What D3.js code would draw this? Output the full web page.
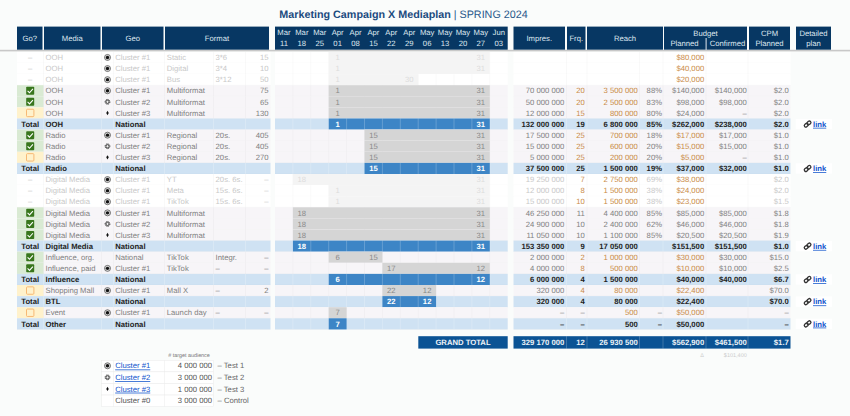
<!DOCTYPE html>
<html><head><meta charset="utf-8">
<script src="https://cdn.jsdelivr.net/npm/d3@7"></script>
<style>html,body{margin:0;padding:0;background:#fafcfb}svg{display:block}text{font-family:"Liberation Sans",Arial,sans-serif;text-rendering:geometricPrecision}</style>
</head><body><svg id="c" width="850" height="416"></svg>
<script>
// ---------- data ----------
const weekMonths=["Mar","Mar","Mar","Apr","Apr","Apr","Apr","Apr","May","May","May","May","Jun"];
const weekDays=["11","18","25","01","08","15","22","29","06","13","20","27","03"];
const rowKinds=["faded","faded","faded","row","row","row","total","row","row","row","total","faded","faded","faded","row","row","row","total","row","row","total","row","total","row","total"];
const go=["–","–","–","yes","yes","no","Total","yes","yes","no","Total","–","–","–","yes","yes","yes","Total","yes","yes","Total","no","Total","no","Total"];
const media=["OOH","OOH","OOH","OOH","OOH","OOH","OOH","Radio","Radio","Radio","Radio","Digital Media","Digital Media","Digital Media","Digital Media","Digital Media","Digital Media","Digital Media","Influence, org.","Influence, paid","Influence","Shopping Mall","BTL","Event","Other"];
const clusterIcon=[1,1,1,1,2,3,0,1,2,3,0,1,1,1,1,2,3,0,0,1,0,1,0,1,0];
const geo=["Cluster #1","Cluster #1","Cluster #1","Cluster #1","Cluster #2","Cluster #3","National","Cluster #1","Cluster #2","Cluster #3","National","Cluster #1","Cluster #1","Cluster #1","Cluster #1","Cluster #2","Cluster #3","National","National","Cluster #1","National","Cluster #1","National","Cluster #1","National"];
const format=["Static","Digital","Bus","Multiformat","Multiformat","Multiformat","","Regional","Regional","Regional","","YT","Meta","TikTok","Multiformat","Multiformat","Multiformat","","TikTok","TikTok","","Mall X","","Launch day",""];
const formatSize=["3*6","3*4","3*12","","","","","20s.","20s.","20s.","","20s. 6s.","15s. 6s.","15s. 6s.","","","","","Integr.","–","","–","","–",""];
const formatCount=[15,10,50,75,65,130,"",405,405,270,"","–","–","–","","","","","–","–","",2,"","–",""];
const barStartWeek=[3,3,3,3,3,3,3,5,5,5,5,1,3,3,1,1,1,1,3,6,3,6,6,3,3];
const barEndWeek=[11,11,7,11,11,11,11,11,11,11,11,11,11,11,11,11,11,11,5,11,11,8,8,3,3];
const startDay=[1,1,1,1,1,1,1,15,15,15,15,18,1,1,18,18,18,18,6,17,6,22,22,7,7];
const endDay=[31,31,30,31,31,31,31,31,31,31,31,31,31,31,31,31,31,31,15,12,12,12,12,"",""];
const impressions=[null,null,null,70000000,50000000,12000000,132000000,17500000,15000000,5000000,37500000,19250000,12000000,15000000,46250000,24900000,11050000,153350000,2000000,4000000,6000000,320000,320000,"–","–"];
const frequency=[null,null,null,20,20,15,19,25,25,25,25,7,8,10,11,10,10,9,2,8,4,4,4,"–","–"];
const reach=[null,null,null,3500000,2500000,800000,6800000,700000,600000,200000,1500000,2750000,1500000,1500000,4400000,2400000,1100000,17050000,1000000,500000,1500000,80000,80000,500,500];
const reachPct=[null,null,null,88,83,80,85,18,20,20,19,69,38,38,85,62,85,null,null,null,null,null,null,"–","–"];
const budgetPlanned=[80000,40000,20000,140000,98000,24000,262000,17000,15000,5000,37000,38000,24000,23000,85000,46000,20500,151500,30000,10000,40000,22400,22400,50000,50000];
const budgetConfirmed=[null,null,null,140000,98000,"–",238000,17000,15000,"–",32000,null,null,null,85000,46000,20500,151500,30000,10000,40000,null,null,null,null];
const cpm=[null,null,null,2.0,2.0,2.0,2.0,1.0,1.0,1.0,1.0,2.0,2.0,1.5,1.8,1.8,1.9,1.0,15.0,2.5,6.7,70.0,70.0,"–","–"];
const frqEstimated=[0,0,0,1,1,1,0,1,1,1,0,1,1,1,0,0,0,0,1,1,0,1,0,0,0];
const reachEstimated=[0,0,0,1,1,1,0,1,1,1,0,1,1,1,0,0,0,0,1,1,0,1,0,1,0];
const plannedEstimated=[1,1,1,0,0,0,0,1,1,1,0,1,1,1,0,0,0,0,1,1,0,1,0,1,0];
const grandTotal={impressions:329170000,frequency:12,reach:26930500,planned:562900,confirmed:461500,cpm:1.7};
const budgetDelta=101400;
const legendIcons=[1,2,3,0];
const legendNames=["Cluster #1","Cluster #2","Cluster #3","Cluster #0"];
const legendAudience=[4000000,3000000,1000000,3000000];
const legendNotes=["– Test 1","– Test 2","– Test 3","– Control"];

// ---------- layout ----------
const C={navy:"#073763",gridRow:"#f7f5f8",total:"#cfe2f3",blue:"#3d85c6",grey:"#d5d5d5",fadeCell:"#f4f4f4",orange:"#c98a45",link:"#1155cc",green:"#38761d"};
const FS=7.7;
const svg=d3.select("#c");
const yRow=d3.scaleBand().domain(d3.range(media.length)).range([51.9,329.4]).paddingInner(0);
const xWeek=d3.scaleBand().domain(d3.range(weekDays.length)).range([275,507.7]);
const rh=yRow.bandwidth();
const sp=d3.formatLocale({decimal:".",thousands:"\u00a0",grouping:[3],currency:["$",""]});
const fmtInt=sp.format(",d");
const fmtUsd=d3.format("$,d");
const fmtCpm=d3.format("$.1f");
const pass=f=>v=>v===null||v===""?"":(typeof v==="string"?v:f(v));
const tableSpans=[[17,270.5],[275,507.7],[513.5,790.5]];
const colEdges=[43.5,101.5,113.5,164.5,213.5,245.5,566.5,587,639.5,663,706,748];
function T(g,x,y,s,o={}){return g.append("text").attr("x",x).attr("y",y).attr("dy","0.35em").attr("font-size",o.fs||FS).attr("fill",o.fill||"#777").attr("font-weight",o.b?"bold":null).attr("text-anchor",o.a||"start").attr("text-decoration",o.u?"underline":null).text(s);}
function icon(g,kind,x,y){
  const n=g.append("g").attr("transform",`translate(${x},${y})`);
  if(kind===1){n.append("circle").attr("r",3).attr("fill","#ddd").attr("stroke","#444").attr("stroke-width",.7);n.append("circle").attr("r",1.7).attr("fill","#111");}
  if(kind===2){n.append("circle").attr("r",2.4).attr("fill","none").attr("stroke","#333").attr("stroke-width",.9).attr("stroke-dasharray","1.1 .6");n.append("circle").attr("r",1.6).attr("fill","#eee").attr("stroke","#222").attr("stroke-width",.8);}
  if(kind===3){n.append("path").attr("d",d3.symbol(d3.symbolDiamond,5.5)()).attr("fill","#111");}
}

// ---------- title ----------
const title=svg.append("text").attr("x",403.5).attr("y",14).attr("dy","0.35em").attr("text-anchor","middle").attr("font-size",10.75).attr("fill","#1c4b7f");
title.append("tspan").attr("font-weight","bold").text("Marketing Campaign X Mediaplan");
title.append("tspan").attr("fill","#2b5a8c").text(" | SPRING 2024");

// ---------- header ----------
const hd=svg.append("g");
const W="#dfe7ef";
const headerBlocks=[[17,42.5,"Go?"],[44,100.5,"Media"],[102,163.5,"Geo"],[165,269,"Format"],[513.5,565,"Impres."],[567,585.5,"Frq."],[587,663,"Reach"]];
const headerTop=26.6,headerH=23.2;
hd.selectAll("rect.h").data(headerBlocks.concat([[664,747,""],[749,790,""],[796,831,""],[275,507.7,""]])).join("rect").attr("class","h")
  .attr("x",d=>d[0]).attr("y",headerTop).attr("width",d=>d[1]-d[0]).attr("height",headerH).attr("fill",C.navy);
headerBlocks.forEach(d=>T(hd,(d[0]+d[1])/2,38.3,d[2],{a:"middle",fill:W}));
weekDays.forEach((d,i)=>{const x=xWeek(i)+xWeek.bandwidth()/2;T(hd,x,32.8,weekMonths[i],{a:"middle",fill:W});T(hd,x,43.8,d,{a:"middle",fill:W});});
T(hd,705.5,33,"Budget",{a:"middle",fill:W});T(hd,684.5,43.8,"Planned",{a:"middle",fill:W});T(hd,727.5,43.8,"Confirmed",{a:"middle",fill:W});
hd.append("rect").attr("x",705.6).attr("y",38).attr("width",1).attr("height",12).attr("fill","#dfe7ef");
T(hd,769.5,33,"CPM",{a:"middle",fill:W});T(hd,769.5,43.8,"Planned",{a:"middle",fill:W});
T(hd,813.5,33,"Detailed",{a:"middle",fill:W});T(hd,813.5,43.8,"plan",{a:"middle",fill:W});
svg.append("rect").attr("x",0).attr("y",49.8).attr("width",850).attr("height",1.6).attr("fill","#c8c8c8");

// ---------- rows ----------
const body=svg.append("g");
media.forEach((m,i)=>{
  const k=rowKinds[i],y=yRow(i),cy=y+rh/2,tot=k==="total",fad=k==="faded";
  const bg=tot?C.total:fad?"#ffffff":C.gridRow;
  const g=body.append("g");
  tableSpans.forEach(s=>g.append("rect").attr("x",s[0]).attr("y",y).attr("width",s[1]-s[0]).attr("height",rh).attr("fill",bg));
  // cell separators under the bars
  colEdges.concat(d3.range(1,13).map(w=>xWeek(w))).forEach(x=>g.append("line").attr("x1",x).attr("x2",x).attr("y1",y).attr("y2",y+rh)
    .attr("stroke",tot?"#ffffff":"#000").attr("stroke-opacity",tot?.3:.035).attr("stroke-width",.7));
  tableSpans.forEach(s=>g.append("line").attr("x1",s[0]).attr("x2",s[1]).attr("y1",y+rh).attr("y2",y+rh).attr("stroke","#000").attr("stroke-opacity",.04).attr("stroke-width",.6));
  const base=tot?"#222":fad?"#c8c8c8":"#808080";
  // week bars
  const s=barStartWeek[i],e=barEndWeek[i];
  g.append("rect").attr("x",xWeek(s)).attr("y",y).attr("width",xWeek(e)+xWeek.bandwidth()-xWeek(s)).attr("height",rh)
    .attr("fill",tot?C.blue:fad?C.fadeCell:C.grey);
  if(tot)d3.range(s+1,e+1).forEach(w=>g.append("line").attr("x1",xWeek(w)).attr("x2",xWeek(w)).attr("y1",y).attr("y2",y+rh).attr("stroke","#fff").attr("stroke-opacity",.3).attr("stroke-width",.7));
  // go cell
  const cx=30.2;
  if(go[i]==="yes"||go[i]==="no"){
    g.append("rect").attr("x",17).attr("y",y).attr("width",26.5).attr("height",rh).attr("fill",go[i]==="yes"?"#d9ead3":"#fff2cc");
    if(go[i]==="yes"){
      g.append("rect").attr("x",cx-4).attr("y",cy-4).attr("width",8).attr("height",8).attr("rx",.8).attr("fill",C.green);
      g.append("path").attr("d",`M${cx-2.6},${cy+.1}L${cx-.7},${cy+2}L${cx+2.7},${cy-1.8}`).attr("fill","none").attr("stroke","#fff").attr("stroke-width",1.1);
    } else {
      g.append("rect").attr("x",cx-3.7).attr("y",cy-3.7).attr("width",7.4).attr("height",7.4).attr("rx",.9).attr("fill","none").attr("stroke","#f6b26b").attr("stroke-width",.9);
    }
  } else if(tot){T(g,cx,cy,"Total",{a:"middle",b:1,fill:"#222"});}
  else T(g,cx,cy,"–",{a:"middle",fill:"#c0c0c0"});
  T(g,45.5,cy,m,{fill:base,b:tot});
  if(clusterIcon[i])icon(g,clusterIcon[i],107.5,cy);
  T(g,115.2,cy,geo[i],{fill:base,b:tot});
  T(g,166.8,cy,format[i],{fill:base});
  T(g,215.6,cy,formatSize[i],{fill:base});
  T(g,268.6,cy,pass(String)(formatCount[i]),{fill:base,a:"end"});
  // week labels
  const lab=tot?"#fff":fad?"#dcdcdc":"#888";
  T(g,xWeek(s)+xWeek.bandwidth()/2,cy,startDay[i],{a:"middle",fill:lab,b:tot});
  if(endDay[i]!=="")T(g,xWeek(e)+xWeek.bandwidth()/2,cy,endDay[i],{a:"middle",fill:lab,b:tot});
  // numeric columns
  const num=(x,v,est)=>T(g,x,cy,v,{a:"end",b:tot,fill:tot?"#222":est?C.orange:base});
  num(564.3,pass(fmtInt)(impressions[i]));
  num(584.8,pass(String)(frequency[i]),frqEstimated[i]);
  num(637.8,pass(fmtInt)(reach[i]),reachEstimated[i]);
  num(662,pass(v=>v+"%")(reachPct[i]));
  num(704.2,pass(fmtUsd)(budgetPlanned[i]),plannedEstimated[i]);
  num(746.8,pass(fmtUsd)(budgetConfirmed[i]));
  num(788.8,pass(fmtCpm)(cpm[i]));
  // link
  if(tot){
    g.append("rect").attr("x",795.7).attr("y",y+.4).attr("width",36.3).attr("height",rh-.8).attr("fill","#fff");
    const ch=g.append("g").attr("transform",`translate(807.6,${cy}) rotate(-40)`);
    [-1.7,1.7].forEach(dx=>ch.append("rect").attr("x",dx-2.1).attr("y",-1.5).attr("width",4.2).attr("height",3).attr("rx",1.4).attr("fill","none").attr("stroke","#333").attr("stroke-width",1.3));
    T(g,813,cy,"link",{fill:C.link,b:1,u:1});
  }
});

// ---------- grand total ----------
const gt=svg.append("g"),gy=336.2,gh=12.4,gc=gy+gh/2;
gt.append("rect").attr("x",418.3).attr("y",gy).attr("width",89.4).attr("height",gh).attr("fill","#0b5394");
gt.append("rect").attr("x",513.5).attr("y",gy).attr("width",277).attr("height",gh).attr("fill","#0b5394");
T(gt,463,gc,"GRAND TOTAL",{a:"middle",b:1,fill:"#f0f4f8"});
[[564.3,fmtInt(grandTotal.impressions)],[584.8,String(grandTotal.frequency)],[637.8,fmtInt(grandTotal.reach)],[704.2,fmtUsd(grandTotal.planned)],[746.8,fmtUsd(grandTotal.confirmed)],[788.8,fmtCpm(grandTotal.cpm)]].forEach(d=>T(gt,d[0],gc,d[1],{a:"end",b:1,fill:"#eef3f8"}));
[566.5,587,639.5,663,706,748].forEach(x=>gt.append("line").attr("x1",x).attr("x2",x).attr("y1",gy).attr("y2",gy+gh).attr("stroke","#fff").attr("stroke-opacity",.3).attr("stroke-width",.7));
T(gt,702,355.2,"Δ",{a:"middle",fill:"#ccc",fs:5.5});
T(gt,746.8,355.2,"$"+d3.format(",d")(budgetDelta),{a:"end",fill:"#ccc",fs:5.5});

// ---------- legend ----------
const lg=svg.append("g");
const yLeg=d3.scaleBand().domain(d3.range(legendNames.length)).range([360.3,406.6]);
T(lg,189,355,"# target audience",{a:"middle",fs:5.4,fill:"#777"});
legendNames.forEach((n,i)=>{
  const y=yLeg(i),cy=y+yLeg.bandwidth()/2-.3;
  lg.append("rect").attr("x",101.5).attr("y",y).attr("width",112).attr("height",yLeg.bandwidth()).attr("fill","#fff").attr("stroke","#eaeaea").attr("stroke-width",.5);
  [113.5,164.5].forEach(x=>lg.append("line").attr("x1",x).attr("x2",x).attr("y1",y).attr("y2",y+yLeg.bandwidth()).attr("stroke","#eaeaea").attr("stroke-width",.5));
  if(legendIcons[i])icon(lg,legendIcons[i],107.5,cy);
  T(lg,115.2,cy,n,legendIcons[i]?{fill:C.link,u:1}:{fill:"#555"});
  T(lg,212,cy,fmtInt(legendAudience[i]),{a:"end",fill:"#555"});
  T(lg,217.5,cy,legendNotes[i],{fill:"#666"});
});
</script></body></html>
